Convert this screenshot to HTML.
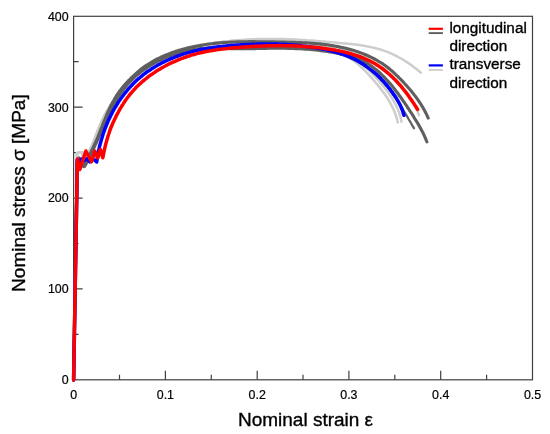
<!DOCTYPE html>
<html><head><meta charset="utf-8"><title>Nominal stress-strain curves</title>
<style>
html,body{margin:0;padding:0;background:#fff;}
svg{display:block;font-family:"Liberation Sans",sans-serif;fill:#000;}
.c path{fill:none;stroke-linejoin:round;stroke-linecap:round;}
.c path.l{stroke-linecap:butt;}
text{stroke:#000;stroke-width:0.2px;}
text.b{stroke-width:0.35px;}
text.m{stroke-width:0.35px;}
</style></head><body>
<svg width="550" height="434" viewBox="0 0 550 434">
<rect width="550" height="434" fill="#fff"/>
<g>
<rect x="73.6" y="16.3" width="458.9" height="363.5" fill="none" stroke="#404040" stroke-width="1.2"/>
<path d="M119.5,379.8 v-5 M165.4,379.8 v-9 M211.3,379.8 v-5 M257.2,379.8 v-9 M303.0,379.8 v-5 M348.9,379.8 v-9 M394.8,379.8 v-5 M440.7,379.8 v-9 M486.6,379.8 v-5 M73.6,334.4 h5 M73.6,288.9 h9 M73.6,243.5 h5 M73.6,198.1 h9 M73.6,152.6 h5 M73.6,107.2 h9 M73.6,61.7 h5" stroke="#404040" stroke-width="1.2" fill="none"/>
</g>
<g class="c">
<path d="M73.6,380.0 L77.0,153.0 L82.4,152.3 L82.6,156.5 L86.0,157.5 C86.2,157.1 86.8,156.1 87.2,155.3 C87.7,154.6 88.0,153.8 88.4,153.1 C88.8,152.4 89.2,151.6 89.5,150.9 C89.9,150.1 90.3,149.3 90.6,148.6 C91.0,147.8 91.3,147.0 91.6,146.3 C92.0,145.5 92.3,144.7 92.6,144.0 C92.9,143.2 93.2,142.4 93.5,141.6 C93.9,140.9 94.2,140.1 94.5,139.3 C94.8,138.5 95.1,137.7 95.4,137.0 C95.7,136.2 96.0,135.4 96.3,134.6 C96.6,133.8 96.9,133.1 97.2,132.3 C97.5,131.5 97.8,130.7 98.1,129.9 C98.4,129.2 98.7,128.4 99.0,127.6 C99.3,126.8 99.7,126.0 100.0,125.3 C100.3,124.5 100.6,123.7 101.0,123.0 C101.3,122.2 101.7,121.4 102.0,120.7 C102.4,119.9 102.7,119.2 103.1,118.4 C103.5,117.7 103.8,116.9 104.2,116.2 C104.6,115.4 105.0,114.7 105.4,113.9 C105.8,113.2 106.2,112.5 106.6,111.8 C107.0,111.0 107.5,110.3 107.9,109.6 C108.3,108.9 108.8,108.2 109.2,107.4 C109.7,106.7 110.1,106.0 110.6,105.3 C111.0,104.6 111.5,103.9 112.0,103.2 C112.4,102.5 112.9,101.8 113.4,101.2 C113.9,100.5 114.4,99.8 114.8,99.1 C115.3,98.4 115.8,97.8 116.3,97.1 C116.8,96.4 117.4,95.8 117.9,95.1 C118.4,94.5 118.9,93.8 119.4,93.1 C120.0,92.5 120.5,91.8 121.0,91.2 C121.6,90.6 122.1,89.9 122.6,89.3 C123.2,88.6 123.7,88.0 124.3,87.4 C124.8,86.8 125.4,86.1 126.0,85.5 C126.5,84.9 127.1,84.3 127.7,83.7 C128.3,83.1 128.8,82.5 129.4,81.9 C130.0,81.3 130.6,80.7 131.2,80.1 C131.8,79.5 132.4,78.9 133.0,78.3 C133.6,77.8 134.2,77.2 134.8,76.6 C135.4,76.0 136.1,75.5 136.7,74.9 C137.3,74.4 138.0,73.8 138.6,73.3 C139.2,72.8 139.9,72.2 140.5,71.7 C141.2,71.2 141.8,70.7 142.5,70.1 C143.2,69.6 143.8,69.1 144.5,68.6 C145.2,68.1 145.9,67.7 146.6,67.2 C147.3,66.7 148.0,66.2 148.7,65.8 C149.4,65.3 150.1,64.9 150.8,64.4 C151.5,64.0 152.2,63.6 152.9,63.1 C153.7,62.7 154.4,62.3 155.1,61.9 C155.9,61.5 156.6,61.1 157.3,60.7 C158.1,60.3 158.8,60.0 159.6,59.6 C160.3,59.2 161.1,58.8 161.8,58.5 C162.6,58.1 163.4,57.8 164.1,57.4 C164.9,57.1 165.6,56.8 166.4,56.4 C167.2,56.1 168.0,55.8 168.7,55.5 C169.5,55.1 170.3,54.8 171.1,54.5 C171.9,54.2 172.6,53.9 173.4,53.6 C174.2,53.3 175.0,53.1 175.8,52.8 C176.6,52.5 177.4,52.2 178.2,52.0 C178.9,51.7 179.7,51.4 180.5,51.2 C181.3,50.9 182.1,50.7 182.9,50.4 C183.7,50.2 184.5,49.9 185.3,49.7 C186.1,49.4 186.9,49.2 187.8,49.0 C188.6,48.8 189.4,48.5 190.2,48.3 C191.0,48.1 191.8,47.9 192.6,47.7 C193.4,47.5 194.2,47.3 195.0,47.1 C195.9,46.9 196.7,46.7 197.5,46.5 C198.3,46.3 199.1,46.1 199.9,46.0 C200.8,45.8 201.6,45.6 202.4,45.4 C203.2,45.3 204.0,45.1 204.9,44.9 C205.7,44.8 206.5,44.6 207.3,44.4 C208.1,44.3 209.0,44.1 209.8,44.0 C210.6,43.8 211.4,43.7 212.3,43.6 C213.1,43.4 213.9,43.3 214.7,43.1 C215.6,43.0 216.4,42.9 217.2,42.7 C218.1,42.6 218.9,42.5 219.7,42.4 C220.5,42.3 221.4,42.1 222.2,42.0 C223.0,41.9 223.9,41.8 224.7,41.7 C225.5,41.6 226.4,41.5 227.2,41.4 C228.0,41.3 228.8,41.2 229.7,41.1 C230.5,41.0 231.3,40.9 232.2,40.8 C233.0,40.7 233.8,40.6 234.7,40.6 C235.5,40.5 236.3,40.4 237.2,40.3 C238.0,40.2 238.8,40.2 239.7,40.1 C240.5,40.0 241.3,40.0 242.2,39.9 C243.0,39.8 243.9,39.8 244.7,39.7 C245.5,39.7 246.4,39.6 247.2,39.6 C248.0,39.5 248.9,39.5 249.7,39.4 C250.5,39.4 251.4,39.3 252.2,39.3 C253.0,39.3 253.9,39.2 254.7,39.2 C255.6,39.1 256.4,39.1 257.2,39.1 C258.1,39.1 258.9,39.0 259.7,39.0 C260.6,39.0 261.4,39.0 262.3,39.0 C263.1,38.9 263.9,38.9 264.8,38.9 C265.6,38.9 266.4,38.9 267.3,38.9 C268.1,38.9 269.0,38.9 269.8,38.9 C270.6,38.9 271.5,38.9 272.3,38.9 C273.1,38.9 274.0,38.9 274.8,38.9 C275.7,38.9 276.5,38.9 277.3,38.9 C278.2,38.9 279.0,39.0 279.8,39.0 C280.7,39.0 281.5,39.0 282.4,39.0 C283.2,39.1 284.0,39.1 284.9,39.1 C285.7,39.1 286.5,39.2 287.4,39.2 C288.2,39.2 289.0,39.3 289.9,39.3 C290.7,39.3 291.6,39.4 292.4,39.4 C293.2,39.4 294.1,39.5 294.9,39.5 C295.7,39.6 296.6,39.6 297.4,39.7 C298.2,39.7 299.1,39.8 299.9,39.8 C300.8,39.9 301.6,39.9 302.4,40.0 C303.3,40.0 304.1,40.1 304.9,40.1 C305.8,40.2 306.6,40.2 307.4,40.3 C308.3,40.3 309.1,40.4 309.9,40.5 C310.8,40.5 311.6,40.6 312.5,40.6 C313.3,40.7 314.1,40.8 315.0,40.8 C315.8,40.9 316.6,41.0 317.5,41.0 C318.3,41.1 319.1,41.2 320.0,41.2 C320.8,41.3 321.6,41.4 322.5,41.4 C323.3,41.5 324.1,41.6 325.0,41.6 C325.8,41.7 326.6,41.8 327.5,41.9 C328.3,41.9 329.1,42.0 330.0,42.1 C330.8,42.2 331.6,42.2 332.5,42.3 C333.3,42.4 334.2,42.4 335.0,42.5 C335.8,42.6 336.7,42.7 337.5,42.7 C338.3,42.8 339.2,42.9 340.0,43.0 C340.8,43.0 341.7,43.1 342.5,43.2 C343.3,43.3 344.2,43.4 345.0,43.4 C345.8,43.5 346.7,43.6 347.5,43.7 C348.3,43.8 349.2,43.8 350.0,43.9 C350.8,44.0 351.7,44.1 352.5,44.2 C353.3,44.3 354.2,44.4 355.0,44.5 C355.8,44.6 356.6,44.7 357.5,44.8 C358.3,44.9 359.1,45.0 360.0,45.2 C360.8,45.3 361.6,45.4 362.4,45.5 C363.3,45.7 364.1,45.8 364.9,45.9 C365.8,46.1 366.6,46.2 367.4,46.4 C368.2,46.5 369.0,46.7 369.9,46.9 C370.7,47.0 371.5,47.2 372.3,47.4 C373.1,47.6 374.0,47.8 374.8,48.0 C375.6,48.2 376.4,48.4 377.2,48.6 C378.0,48.8 378.8,49.1 379.6,49.3 C380.4,49.5 381.2,49.8 382.0,50.1 C382.8,50.3 383.6,50.6 384.4,50.9 C385.2,51.1 386.0,51.4 386.7,51.7 C387.5,52.0 388.3,52.3 389.1,52.7 C389.9,53.0 390.6,53.3 391.4,53.7 C392.2,54.0 392.9,54.3 393.7,54.7 C394.4,55.1 395.2,55.4 395.9,55.8 C396.7,56.2 397.4,56.6 398.2,57.0 C398.9,57.4 399.6,57.8 400.4,58.2 C401.1,58.6 401.8,59.0 402.5,59.4 C403.3,59.8 404.0,60.3 404.7,60.7 C405.4,61.2 406.1,61.6 406.8,62.1 C407.5,62.5 408.2,63.0 408.9,63.5 C409.6,63.9 410.3,64.4 411.0,64.9 C411.6,65.4 412.3,65.9 413.0,66.4 C413.7,66.9 414.3,67.4 415.0,67.9 C415.6,68.4 416.3,68.9 417.0,69.5 C417.6,70.0 418.3,70.5 418.9,71.1 C419.5,71.6 420.5,72.4 420.8,72.7" stroke="#cdcdcd" stroke-width="2.5"/>
<path d="M73.6,380.0 L77.0,153.0 L82.4,152.3 L82.6,156.5 L86.0,157.5 C86.2,157.1 86.8,156.0 87.2,155.3 C87.6,154.6 88.0,153.8 88.4,153.1 C88.7,152.3 89.1,151.6 89.5,150.8 C89.8,150.1 90.2,149.3 90.5,148.5 C90.9,147.8 91.2,147.0 91.5,146.2 C91.9,145.5 92.2,144.7 92.5,143.9 C92.9,143.2 93.2,142.4 93.5,141.6 C93.8,140.8 94.1,140.1 94.4,139.3 C94.7,138.5 95.1,137.7 95.4,137.0 C95.7,136.2 96.0,135.4 96.3,134.6 C96.6,133.8 96.9,133.1 97.2,132.3 C97.5,131.5 97.8,130.7 98.1,130.0 C98.5,129.2 98.8,128.4 99.1,127.6 C99.4,126.9 99.7,126.1 100.1,125.3 C100.4,124.5 100.7,123.8 101.1,123.0 C101.4,122.3 101.7,121.5 102.1,120.7 C102.5,120.0 102.8,119.2 103.2,118.5 C103.5,117.7 103.9,117.0 104.3,116.2 C104.7,115.5 105.1,114.7 105.5,114.0 C105.9,113.3 106.3,112.5 106.7,111.8 C107.1,111.1 107.5,110.3 107.9,109.6 C108.4,108.9 108.8,108.2 109.2,107.5 C109.7,106.8 110.1,106.0 110.6,105.3 C111.0,104.6 111.5,103.9 111.9,103.2 C112.4,102.5 112.9,101.9 113.3,101.2 C113.8,100.5 114.3,99.8 114.8,99.1 C115.3,98.4 115.8,97.8 116.3,97.1 C116.8,96.4 117.3,95.8 117.8,95.1 C118.3,94.4 118.8,93.8 119.4,93.1 C119.9,92.5 120.4,91.8 120.9,91.2 C121.5,90.5 122.0,89.9 122.6,89.3 C123.1,88.6 123.7,88.0 124.2,87.4 C124.8,86.7 125.3,86.1 125.9,85.5 C126.5,84.9 127.0,84.3 127.6,83.7 C128.2,83.1 128.8,82.5 129.4,81.9 C129.9,81.3 130.5,80.7 131.1,80.1 C131.7,79.5 132.3,78.9 132.9,78.3 C133.5,77.8 134.2,77.2 134.8,76.6 C135.4,76.1 136.0,75.5 136.7,75.0 C137.3,74.4 137.9,73.9 138.6,73.3 C139.2,72.8 139.9,72.3 140.5,71.8 C141.2,71.2 141.8,70.7 142.5,70.2 C143.2,69.7 143.8,69.2 144.5,68.7 C145.2,68.2 145.9,67.7 146.6,67.3 C147.2,66.8 147.9,66.3 148.6,65.9 C149.3,65.4 150.1,65.0 150.8,64.5 C151.5,64.1 152.2,63.7 152.9,63.2 C153.6,62.8 154.4,62.4 155.1,62.0 C155.8,61.6 156.6,61.2 157.3,60.8 C158.1,60.4 158.8,60.1 159.6,59.7 C160.3,59.3 161.1,58.9 161.8,58.6 C162.6,58.2 163.3,57.9 164.1,57.5 C164.9,57.2 165.6,56.9 166.4,56.5 C167.2,56.2 167.9,55.9 168.7,55.6 C169.5,55.2 170.3,54.9 171.0,54.6 C171.8,54.3 172.6,54.0 173.4,53.7 C174.2,53.4 174.9,53.1 175.7,52.8 C176.5,52.5 177.3,52.3 178.1,52.0 C178.9,51.7 179.7,51.4 180.5,51.2 C181.3,50.9 182.1,50.7 182.9,50.4 C183.7,50.1 184.4,49.9 185.3,49.7 C186.1,49.4 186.9,49.2 187.7,48.9 C188.5,48.7 189.3,48.5 190.1,48.3 C190.9,48.0 191.7,47.8 192.5,47.6 C193.3,47.4 194.1,47.2 194.9,47.0 C195.7,46.8 196.6,46.6 197.4,46.4 C198.2,46.2 199.0,46.0 199.8,45.8 C200.6,45.6 201.4,45.5 202.3,45.3 C203.1,45.1 203.9,44.9 204.7,44.8 C205.5,44.6 206.4,44.5 207.2,44.3 C208.0,44.1 208.8,44.0 209.7,43.8 C210.5,43.7 211.3,43.6 212.1,43.4 C213.0,43.3 213.8,43.2 214.6,43.0 C215.4,42.9 216.3,42.8 217.1,42.7 C217.9,42.5 218.8,42.4 219.6,42.3 C220.4,42.2 221.2,42.1 222.1,42.0 C222.9,41.9 223.7,41.8 224.6,41.7 C225.4,41.6 226.2,41.5 227.1,41.5 C227.9,41.4 228.7,41.3 229.6,41.2 C230.4,41.1 231.2,41.1 232.1,41.0 C232.9,40.9 233.7,40.8 234.6,40.8 C235.4,40.7 236.2,40.7 237.1,40.6 C237.9,40.5 238.7,40.5 239.6,40.4 C240.4,40.4 241.2,40.3 242.1,40.3 C242.9,40.3 243.8,40.2 244.6,40.2 C245.4,40.1 246.3,40.1 247.1,40.1 C247.9,40.0 248.8,40.0 249.6,40.0 C250.4,39.9 251.3,39.9 252.1,39.9 C253.0,39.9 253.8,39.9 254.6,39.8 C255.5,39.8 256.3,39.8 257.1,39.8 C258.0,39.8 258.8,39.8 259.6,39.8 C260.5,39.7 261.3,39.7 262.2,39.7 C263.0,39.7 263.8,39.7 264.7,39.7 C265.5,39.7 266.3,39.7 267.2,39.7 C268.0,39.7 268.8,39.7 269.7,39.7 C270.5,39.7 271.4,39.7 272.2,39.7 C273.0,39.7 273.9,39.7 274.7,39.8 C275.5,39.8 276.4,39.8 277.2,39.8 C278.1,39.8 278.9,39.8 279.7,39.8 C280.6,39.9 281.4,39.9 282.2,39.9 C283.1,39.9 283.9,39.9 284.7,40.0 C285.6,40.0 286.4,40.0 287.3,40.1 C288.1,40.1 288.9,40.1 289.8,40.2 C290.6,40.2 291.4,40.2 292.3,40.3 C293.1,40.3 293.9,40.4 294.8,40.4 C295.6,40.5 296.4,40.5 297.3,40.6 C298.1,40.7 299.0,40.7 299.8,40.8 C300.6,40.9 301.5,40.9 302.3,41.0 C303.1,41.1 304.0,41.2 304.8,41.2 C305.6,41.3 306.5,41.4 307.3,41.5 C308.1,41.6 308.9,41.7 309.8,41.8 C310.6,41.9 311.4,42.0 312.3,42.1 C313.1,42.2 313.9,42.3 314.8,42.4 C315.6,42.6 316.4,42.7 317.2,42.8 C318.1,42.9 318.9,43.1 319.7,43.2 C320.5,43.4 321.4,43.5 322.2,43.7 C323.0,43.8 323.8,44.0 324.6,44.1 C325.5,44.3 326.3,44.5 327.1,44.7 C327.9,44.8 328.7,45.0 329.6,45.2 C330.4,45.4 331.2,45.6 332.0,45.8 C332.8,46.0 333.6,46.2 334.4,46.4 C335.2,46.6 336.0,46.9 336.8,47.1 C337.7,47.3 338.5,47.5 339.3,47.8 C340.1,48.0 340.9,48.3 341.7,48.5 C342.4,48.8 343.2,49.1 344.0,49.3 C344.8,49.6 345.6,49.9 346.4,50.2 C347.2,50.5 348.0,50.7 348.8,51.0 C349.5,51.3 350.3,51.6 351.1,52.0 C351.9,52.3 352.6,52.6 353.4,52.9 C354.2,53.2 355.0,53.6 355.7,53.9 C356.5,54.3 357.2,54.6 358.0,54.9 C358.8,55.3 359.5,55.7 360.3,56.0 C361.0,56.4 361.8,56.8 362.5,57.1 C363.3,57.5 364.0,57.9 364.8,58.3 C365.5,58.7 366.2,59.1 367.0,59.5 C367.7,59.9 368.4,60.3 369.1,60.7 C369.9,61.1 370.6,61.6 371.3,62.0 C372.0,62.4 372.7,62.9 373.5,63.3 C374.2,63.7 374.9,64.2 375.6,64.7 C376.3,65.1 377.0,65.6 377.7,66.0 C378.4,66.5 379.0,67.0 379.7,67.5 C380.4,67.9 381.1,68.4 381.8,68.9 C382.4,69.4 383.1,69.9 383.8,70.4 C384.4,70.9 385.1,71.4 385.8,72.0 C386.4,72.5 387.1,73.0 387.7,73.5 C388.4,74.1 389.0,74.6 389.6,75.2 C390.3,75.7 390.9,76.2 391.5,76.8 C392.2,77.4 392.8,77.9 393.4,78.5 C394.0,79.1 394.6,79.6 395.2,80.2 C395.8,80.8 396.4,81.4 397.0,82.0 C397.6,82.6 398.2,83.2 398.8,83.8 C399.4,84.4 399.9,85.0 400.5,85.6 C401.1,86.2 401.6,86.8 402.2,87.5 C402.7,88.1 403.3,88.7 403.8,89.4 C404.3,90.0 404.9,90.7 405.4,91.3 C405.9,92.0 406.4,92.6 406.9,93.3 C407.4,94.0 407.9,94.6 408.4,95.3 C408.9,96.0 409.4,96.7 409.8,97.4 C410.3,98.1 410.8,98.8 411.2,99.5 C411.7,100.2 412.1,100.9 412.5,101.6 C413.0,102.3 413.4,103.1 413.8,103.8 C414.2,104.5 414.6,105.3 415.0,106.0 C415.4,106.8 415.7,107.5 416.1,108.3 C416.4,109.0 416.8,109.8 417.1,110.5 C417.5,111.3 417.8,112.1 418.1,112.9 C418.4,113.6 418.9,114.8 419.0,115.2" stroke="#cdcdcd" stroke-width="2.5"/>
<path d="M73.6,380.0 L77.0,153.0 L82.4,152.3 L82.6,156.5 L86.0,157.5 C86.2,157.1 86.8,156.1 87.2,155.3 C87.6,154.6 88.0,153.8 88.4,153.1 C88.8,152.4 89.2,151.6 89.5,150.9 C89.9,150.1 90.2,149.3 90.6,148.6 C90.9,147.8 91.3,147.1 91.6,146.3 C91.9,145.5 92.2,144.7 92.6,144.0 C92.9,143.2 93.2,142.4 93.5,141.6 C93.8,140.9 94.1,140.1 94.4,139.3 C94.7,138.5 95.0,137.8 95.3,137.0 C95.6,136.2 96.0,135.4 96.3,134.6 C96.6,133.9 96.9,133.1 97.2,132.3 C97.5,131.5 97.8,130.7 98.1,130.0 C98.4,129.2 98.7,128.4 99.0,127.6 C99.3,126.9 99.7,126.1 100.0,125.3 C100.3,124.6 100.7,123.8 101.0,123.0 C101.3,122.3 101.7,121.5 102.0,120.7 C102.4,120.0 102.7,119.2 103.1,118.5 C103.5,117.7 103.9,117.0 104.2,116.2 C104.6,115.5 105.0,114.8 105.4,114.0 C105.8,113.3 106.2,112.6 106.6,111.8 C107.0,111.1 107.5,110.4 107.9,109.7 C108.3,108.9 108.8,108.2 109.2,107.5 C109.6,106.8 110.1,106.1 110.5,105.4 C111.0,104.7 111.5,104.0 111.9,103.3 C112.4,102.6 112.9,101.9 113.3,101.2 C113.8,100.6 114.3,99.9 114.8,99.2 C115.3,98.5 115.8,97.9 116.3,97.2 C116.8,96.5 117.3,95.9 117.8,95.2 C118.3,94.5 118.8,93.9 119.4,93.2 C119.9,92.6 120.4,91.9 120.9,91.3 C121.5,90.6 122.0,90.0 122.6,89.4 C123.1,88.7 123.6,88.1 124.2,87.5 C124.7,86.8 125.3,86.2 125.9,85.6 C126.4,85.0 127.0,84.3 127.6,83.7 C128.1,83.1 128.7,82.5 129.3,81.9 C129.9,81.3 130.4,80.7 131.0,80.1 C131.6,79.5 132.2,78.9 132.8,78.4 C133.4,77.8 134.0,77.2 134.6,76.6 C135.3,76.1 135.9,75.5 136.5,75.0 C137.1,74.4 137.8,73.9 138.4,73.3 C139.1,72.8 139.7,72.3 140.4,71.7 C141.0,71.2 141.7,70.7 142.4,70.2 C143.0,69.7 143.7,69.2 144.4,68.8 C145.1,68.3 145.8,67.8 146.5,67.3 C147.1,66.9 147.9,66.4 148.6,66.0 C149.3,65.5 150.0,65.1 150.7,64.6 C151.4,64.2 152.1,63.8 152.9,63.4 C153.6,63.0 154.3,62.5 155.0,62.1 C155.8,61.7 156.5,61.3 157.3,61.0 C158.0,60.6 158.7,60.2 159.5,59.8 C160.2,59.4 161.0,59.1 161.7,58.7 C162.5,58.3 163.2,58.0 164.0,57.6 C164.8,57.3 165.5,57.0 166.3,56.6 C167.1,56.3 167.8,55.9 168.6,55.6 C169.4,55.3 170.1,55.0 170.9,54.7 C171.7,54.3 172.5,54.0 173.2,53.7 C174.0,53.4 174.8,53.1 175.6,52.9 C176.4,52.6 177.2,52.3 177.9,52.0 C178.7,51.7 179.5,51.4 180.3,51.2 C181.1,50.9 181.9,50.7 182.7,50.4 C183.5,50.1 184.3,49.9 185.1,49.6 C185.9,49.4 186.7,49.2 187.5,48.9 C188.3,48.7 189.1,48.5 189.9,48.2 C190.7,48.0 191.5,47.8 192.3,47.6 C193.1,47.4 194.0,47.2 194.8,47.0 C195.6,46.8 196.4,46.6 197.2,46.4 C198.0,46.2 198.8,46.0 199.6,45.8 C200.5,45.6 201.3,45.5 202.1,45.3 C202.9,45.1 203.7,44.9 204.6,44.8 C205.4,44.6 206.2,44.5 207.0,44.3 C207.8,44.2 208.7,44.0 209.5,43.9 C210.3,43.7 211.1,43.6 212.0,43.5 C212.8,43.3 213.6,43.2 214.4,43.1 C215.3,43.0 216.1,42.8 216.9,42.7 C217.8,42.6 218.6,42.5 219.4,42.4 C220.2,42.3 221.1,42.2 221.9,42.1 C222.7,42.0 223.6,41.9 224.4,41.8 C225.2,41.7 226.1,41.6 226.9,41.5 C227.7,41.4 228.5,41.4 229.4,41.3 C230.2,41.2 231.0,41.1 231.9,41.1 C232.7,41.0 233.5,40.9 234.4,40.9 C235.2,40.8 236.0,40.7 236.9,40.7 C237.7,40.6 238.6,40.6 239.4,40.5 C240.2,40.5 241.1,40.4 241.9,40.4 C242.7,40.3 243.6,40.3 244.4,40.2 C245.2,40.2 246.1,40.2 246.9,40.1 C247.7,40.1 248.6,40.1 249.4,40.0 C250.2,40.0 251.1,40.0 251.9,39.9 C252.7,39.9 253.6,39.9 254.4,39.9 C255.3,39.8 256.1,39.8 256.9,39.8 C257.8,39.8 258.6,39.8 259.4,39.8 C260.3,39.7 261.1,39.7 261.9,39.7 C262.8,39.7 263.6,39.7 264.5,39.7 C265.3,39.7 266.1,39.7 267.0,39.7 C267.8,39.7 268.6,39.7 269.5,39.7 C270.3,39.7 271.1,39.7 272.0,39.7 C272.8,39.7 273.6,39.7 274.5,39.7 C275.3,39.7 276.2,39.7 277.0,39.8 C277.8,39.8 278.7,39.8 279.5,39.8 C280.3,39.9 281.2,39.9 282.0,39.9 C282.8,40.0 283.7,40.0 284.5,40.0 C285.3,40.1 286.2,40.1 287.0,40.2 C287.9,40.2 288.7,40.3 289.5,40.4 C290.4,40.4 291.2,40.5 292.0,40.6 C292.9,40.6 293.7,40.7 294.5,40.8 C295.3,40.9 296.2,40.9 297.0,41.0 C297.8,41.1 298.7,41.2 299.5,41.3 C300.3,41.4 301.2,41.5 302.0,41.6 C302.8,41.8 303.6,41.9 304.5,42.0 C305.3,42.1 306.1,42.3 307.0,42.4 C307.8,42.5 308.6,42.7 309.4,42.8 C310.2,43.0 311.1,43.1 311.9,43.3 C312.7,43.5 313.5,43.6 314.3,43.8 C315.2,44.0 316.0,44.2 316.8,44.4 C317.6,44.5 318.4,44.7 319.2,44.9 C320.0,45.2 320.8,45.4 321.7,45.6 C322.5,45.8 323.3,46.0 324.1,46.3 C324.9,46.5 325.7,46.8 326.5,47.0 C327.3,47.3 328.1,47.5 328.8,47.8 C329.6,48.1 330.4,48.3 331.2,48.6 C332.0,48.9 332.8,49.2 333.6,49.5 C334.3,49.8 335.1,50.1 335.9,50.5 C336.7,50.8 337.4,51.1 338.2,51.5 C338.9,51.8 339.7,52.1 340.5,52.5 C341.2,52.9 342.0,53.3 342.7,53.6 C343.4,54.0 344.2,54.4 344.9,54.8 C345.6,55.2 346.4,55.7 347.1,56.1 C347.8,56.5 348.5,57.0 349.2,57.4 C349.9,57.9 350.6,58.3 351.3,58.8 C352.0,59.3 352.6,59.8 353.3,60.3 C354.0,60.8 354.6,61.3 355.3,61.8 C356.0,62.3 356.6,62.9 357.2,63.4 C357.9,64.0 358.5,64.5 359.1,65.1 C359.7,65.6 360.4,66.2 361.0,66.8 C361.6,67.3 362.2,67.9 362.8,68.5 C363.4,69.1 364.0,69.7 364.5,70.3 C365.1,70.9 365.7,71.5 366.3,72.1 C366.9,72.7 367.4,73.3 368.0,73.9 C368.6,74.5 369.1,75.2 369.7,75.8 C370.2,76.4 370.8,77.0 371.4,77.6 C371.9,78.3 372.5,78.9 373.0,79.5 C373.6,80.2 374.1,80.8 374.7,81.4 C375.2,82.1 375.7,82.7 376.3,83.3 C376.8,84.0 377.4,84.6 377.9,85.3 C378.4,85.9 378.9,86.6 379.5,87.2 C380.0,87.9 380.5,88.5 381.0,89.2 C381.5,89.9 382.0,90.5 382.5,91.2 C383.0,91.9 383.5,92.5 384.0,93.2 C384.5,93.9 385.0,94.6 385.5,95.3 C385.9,96.0 386.4,96.6 386.8,97.3 C387.3,98.0 387.8,98.8 388.2,99.5 C388.6,100.2 389.1,100.9 389.5,101.6 C389.9,102.3 390.3,103.1 390.7,103.8 C391.1,104.5 391.5,105.3 391.9,106.0 C392.3,106.8 392.6,107.5 393.0,108.3 C393.3,109.0 393.7,109.8 394.0,110.6 C394.3,111.3 394.6,112.1 394.9,112.9 C395.2,113.7 395.5,114.5 395.8,115.3 C396.1,116.0 396.3,116.8 396.6,117.6 C396.8,118.4 397.0,119.3 397.2,120.1 C397.4,120.9 397.7,122.1 397.8,122.5" stroke="#cdcdcd" stroke-width="2.5"/>
<path d="M73.6,380.0 L77.0,153.0 L82.4,152.3 L82.6,156.5 L86.0,157.5 C86.2,157.1 86.8,156.1 87.2,155.3 C87.7,154.6 88.0,153.8 88.4,153.1 C88.8,152.4 89.2,151.6 89.5,150.9 C89.9,150.1 90.3,149.3 90.6,148.6 C90.9,147.8 91.3,147.0 91.6,146.3 C91.9,145.5 92.3,144.7 92.6,144.0 C92.9,143.2 93.2,142.4 93.5,141.6 C93.8,140.9 94.1,140.1 94.4,139.3 C94.8,138.5 95.1,137.7 95.4,137.0 C95.7,136.2 96.0,135.4 96.3,134.6 C96.6,133.8 96.9,133.1 97.2,132.3 C97.5,131.5 97.8,130.7 98.1,129.9 C98.4,129.2 98.7,128.4 99.0,127.6 C99.3,126.8 99.7,126.1 100.0,125.3 C100.3,124.5 100.6,123.8 101.0,123.0 C101.3,122.2 101.7,121.5 102.0,120.7 C102.4,119.9 102.7,119.2 103.1,118.4 C103.5,117.7 103.9,116.9 104.2,116.2 C104.6,115.5 105.0,114.7 105.4,114.0 C105.8,113.2 106.2,112.5 106.6,111.8 C107.1,111.1 107.5,110.3 107.9,109.6 C108.3,108.9 108.8,108.2 109.2,107.5 C109.7,106.8 110.1,106.1 110.6,105.4 C111.0,104.7 111.5,104.0 112.0,103.3 C112.4,102.6 112.9,101.9 113.4,101.2 C113.9,100.5 114.4,99.8 114.8,99.2 C115.3,98.5 115.8,97.8 116.3,97.1 C116.8,96.5 117.4,95.8 117.9,95.2 C118.4,94.5 118.9,93.8 119.4,93.2 C119.9,92.5 120.5,91.9 121.0,91.2 C121.5,90.6 122.1,90.0 122.6,89.3 C123.2,88.7 123.7,88.0 124.3,87.4 C124.8,86.8 125.4,86.2 125.9,85.5 C126.5,84.9 127.0,84.3 127.6,83.7 C128.2,83.1 128.8,82.5 129.3,81.8 C129.9,81.2 130.5,80.6 131.1,80.0 C131.7,79.5 132.3,78.9 132.9,78.3 C133.5,77.7 134.1,77.1 134.7,76.6 C135.3,76.0 135.9,75.4 136.6,74.9 C137.2,74.3 137.8,73.8 138.5,73.2 C139.1,72.7 139.8,72.2 140.4,71.7 C141.1,71.2 141.7,70.6 142.4,70.1 C143.1,69.6 143.8,69.2 144.5,68.7 C145.1,68.2 145.8,67.7 146.5,67.3 C147.2,66.8 147.9,66.3 148.6,65.9 C149.3,65.5 150.1,65.0 150.8,64.6 C151.5,64.2 152.2,63.7 152.9,63.3 C153.7,62.9 154.4,62.5 155.1,62.1 C155.9,61.7 156.6,61.3 157.4,60.9 C158.1,60.5 158.8,60.2 159.6,59.8 C160.3,59.4 161.1,59.0 161.9,58.7 C162.6,58.3 163.4,58.0 164.1,57.6 C164.9,57.3 165.7,56.9 166.4,56.6 C167.2,56.3 167.9,55.9 168.7,55.6 C169.5,55.3 170.3,54.9 171.0,54.6 C171.8,54.3 172.6,54.0 173.4,53.7 C174.2,53.4 174.9,53.1 175.7,52.8 C176.5,52.5 177.3,52.2 178.1,52.0 C178.9,51.7 179.7,51.4 180.5,51.1 C181.2,50.9 182.0,50.6 182.8,50.3 C183.6,50.1 184.4,49.8 185.2,49.6 C186.0,49.3 186.8,49.1 187.6,48.9 C188.4,48.6 189.2,48.4 190.0,48.2 C190.9,47.9 191.7,47.7 192.5,47.5 C193.3,47.3 194.1,47.1 194.9,46.9 C195.7,46.7 196.5,46.5 197.3,46.3 C198.2,46.1 199.0,45.9 199.8,45.7 C200.6,45.6 201.4,45.4 202.2,45.2 C203.1,45.0 203.9,44.9 204.7,44.7 C205.5,44.5 206.3,44.4 207.2,44.2 C208.0,44.1 208.8,44.0 209.6,43.8 C210.5,43.7 211.3,43.5 212.1,43.4 C212.9,43.3 213.8,43.1 214.6,43.0 C215.4,42.9 216.3,42.8 217.1,42.7 C217.9,42.6 218.7,42.5 219.6,42.4 C220.4,42.3 221.2,42.2 222.1,42.1 C222.9,42.0 223.7,41.9 224.6,41.8 C225.4,41.7 226.2,41.6 227.1,41.5 C227.9,41.5 228.7,41.4 229.6,41.3 C230.4,41.2 231.2,41.2 232.1,41.1 C232.9,41.0 233.7,41.0 234.6,40.9 C235.4,40.9 236.2,40.8 237.1,40.8 C237.9,40.7 238.8,40.7 239.6,40.6 C240.4,40.6 241.3,40.5 242.1,40.5 C242.9,40.4 243.8,40.4 244.6,40.4 C245.4,40.3 246.3,40.3 247.1,40.3 C247.9,40.3 248.8,40.2 249.6,40.2 C250.5,40.2 251.3,40.2 252.1,40.1 C253.0,40.1 253.8,40.1 254.6,40.1 C255.5,40.1 256.3,40.0 257.2,40.0 C258.0,40.0 258.8,40.0 259.7,40.0 C260.5,40.0 261.3,40.0 262.2,40.0 C263.0,40.0 263.8,40.0 264.7,40.0 C265.5,40.0 266.4,40.0 267.2,40.0 C268.0,40.0 268.9,40.0 269.7,40.0 C270.5,40.0 271.4,40.0 272.2,40.0 C273.1,40.0 273.9,40.1 274.7,40.1 C275.6,40.1 276.4,40.1 277.2,40.1 C278.1,40.2 278.9,40.2 279.7,40.2 C280.6,40.3 281.4,40.3 282.3,40.3 C283.1,40.4 283.9,40.4 284.8,40.4 C285.6,40.5 286.4,40.5 287.3,40.6 C288.1,40.6 288.9,40.7 289.8,40.8 C290.6,40.8 291.4,40.9 292.3,41.0 C293.1,41.0 293.9,41.1 294.8,41.2 C295.6,41.3 296.4,41.3 297.3,41.4 C298.1,41.5 298.9,41.6 299.8,41.7 C300.6,41.8 301.4,41.9 302.3,42.0 C303.1,42.1 303.9,42.2 304.8,42.3 C305.6,42.4 306.4,42.6 307.2,42.7 C308.1,42.8 308.9,42.9 309.7,43.1 C310.5,43.2 311.4,43.3 312.2,43.5 C313.0,43.6 313.8,43.8 314.7,44.0 C315.5,44.1 316.3,44.3 317.1,44.5 C317.9,44.6 318.8,44.8 319.6,45.0 C320.4,45.2 321.2,45.4 322.0,45.5 C322.8,45.7 323.6,45.9 324.5,46.2 C325.3,46.4 326.1,46.6 326.9,46.8 C327.7,47.0 328.5,47.3 329.3,47.5 C330.1,47.7 330.9,48.0 331.7,48.2 C332.5,48.5 333.3,48.7 334.1,49.0 C334.9,49.3 335.7,49.5 336.5,49.8 C337.3,50.1 338.0,50.4 338.8,50.7 C339.6,51.0 340.4,51.3 341.2,51.6 C341.9,51.9 342.7,52.3 343.5,52.6 C344.2,52.9 345.0,53.3 345.7,53.6 C346.5,54.0 347.3,54.4 348.0,54.7 C348.7,55.1 349.5,55.5 350.2,55.9 C350.9,56.3 351.7,56.7 352.4,57.2 C353.1,57.6 353.8,58.0 354.5,58.5 C355.2,58.9 355.9,59.4 356.6,59.9 C357.3,60.3 358.0,60.8 358.7,61.3 C359.3,61.8 360.0,62.3 360.7,62.9 C361.3,63.4 362.0,63.9 362.6,64.5 C363.2,65.0 363.9,65.5 364.5,66.1 C365.1,66.7 365.7,67.2 366.3,67.8 C367.0,68.4 367.6,68.9 368.2,69.5 C368.8,70.1 369.4,70.7 369.9,71.3 C370.5,71.9 371.1,72.5 371.7,73.1 C372.3,73.7 372.8,74.3 373.4,74.9 C374.0,75.5 374.6,76.1 375.1,76.8 C375.7,77.4 376.2,78.0 376.8,78.6 C377.4,79.2 377.9,79.9 378.5,80.5 C379.0,81.1 379.6,81.8 380.1,82.4 C380.7,83.0 381.2,83.7 381.8,84.3 C382.3,84.9 382.8,85.6 383.4,86.2 C383.9,86.9 384.4,87.5 384.9,88.2 C385.4,88.9 386.0,89.5 386.5,90.2 C387.0,90.9 387.5,91.5 388.0,92.2 C388.4,92.9 388.9,93.6 389.4,94.2 C389.9,94.9 390.4,95.6 390.8,96.3 C391.3,97.0 391.7,97.7 392.2,98.4 C392.6,99.2 393.0,99.9 393.4,100.6 C393.9,101.3 394.3,102.1 394.7,102.8 C395.1,103.5 395.5,104.3 395.8,105.0 C396.2,105.8 396.6,106.5 396.9,107.3 C397.3,108.1 397.6,108.8 397.9,109.6 C398.2,110.4 398.5,111.1 398.8,111.9 C399.1,112.7 399.4,113.5 399.6,114.3 C399.9,115.1 400.1,115.9 400.4,116.7 C400.6,117.5 400.8,118.3 401.0,119.1 C401.2,120.0 401.4,121.2 401.5,121.6" stroke="#cdcdcd" stroke-width="2.5"/>
<path d="M73.6,380.0 L77.2,160.0 L79.0,158.0 L81.0,163.0 L83.6,166.5 C83.8,166.1 84.4,165.0 84.8,164.3 C85.2,163.5 85.5,162.8 85.9,162.1 C86.3,161.3 86.7,160.6 87.1,159.8 C87.5,159.1 87.9,158.3 88.2,157.6 C88.6,156.8 89.0,156.1 89.4,155.3 C89.7,154.6 90.1,153.8 90.5,153.1 C90.8,152.3 91.2,151.6 91.6,150.8 C91.9,150.1 92.3,149.3 92.7,148.6 C93.0,147.8 93.4,147.1 93.7,146.3 C94.1,145.5 94.4,144.8 94.8,144.0 C95.1,143.3 95.4,142.5 95.8,141.7 C96.1,141.0 96.4,140.2 96.8,139.4 C97.1,138.7 97.4,137.9 97.8,137.1 C98.1,136.3 98.4,135.6 98.7,134.8 C99.0,134.0 99.3,133.2 99.6,132.5 C100.0,131.7 100.3,130.9 100.6,130.1 C100.9,129.3 101.2,128.6 101.5,127.8 C101.8,127.0 102.1,126.2 102.4,125.5 C102.7,124.7 103.0,123.9 103.3,123.1 C103.6,122.3 104.0,121.6 104.3,120.8 C104.6,120.0 104.9,119.2 105.2,118.5 C105.5,117.7 105.9,116.9 106.2,116.1 C106.5,115.4 106.8,114.6 107.2,113.8 C107.5,113.1 107.8,112.3 108.2,111.5 C108.5,110.8 108.9,110.0 109.2,109.3 C109.6,108.5 109.9,107.7 110.3,107.0 C110.6,106.2 111.0,105.5 111.4,104.7 C111.8,104.0 112.2,103.2 112.6,102.5 C112.9,101.8 113.3,101.0 113.8,100.3 C114.2,99.6 114.6,98.8 115.0,98.1 C115.4,97.4 115.9,96.7 116.3,96.0 C116.8,95.3 117.2,94.6 117.7,93.9 C118.2,93.2 118.6,92.5 119.1,91.8 C119.6,91.1 120.1,90.5 120.6,89.8 C121.1,89.1 121.6,88.5 122.2,87.8 C122.7,87.2 123.2,86.5 123.8,85.9 C124.3,85.3 124.9,84.6 125.4,84.0 C126.0,83.4 126.5,82.8 127.1,82.2 C127.7,81.5 128.3,80.9 128.8,80.3 C129.4,79.7 130.0,79.1 130.6,78.6 C131.2,78.0 131.8,77.4 132.4,76.8 C133.0,76.2 133.6,75.6 134.2,75.1 C134.8,74.5 135.5,73.9 136.1,73.4 C136.7,72.8 137.3,72.3 138.0,71.7 C138.6,71.2 139.3,70.7 139.9,70.1 C140.6,69.6 141.2,69.1 141.9,68.6 C142.6,68.1 143.2,67.6 143.9,67.1 C144.6,66.6 145.3,66.1 146.0,65.7 C146.7,65.2 147.4,64.7 148.1,64.3 C148.8,63.8 149.5,63.4 150.2,63.0 C150.9,62.5 151.6,62.1 152.4,61.7 C153.1,61.3 153.8,60.8 154.5,60.4 C155.3,60.0 156.0,59.6 156.8,59.3 C157.5,58.9 158.3,58.5 159.0,58.1 C159.8,57.8 160.5,57.4 161.3,57.0 C162.0,56.7 162.8,56.3 163.6,56.0 C164.3,55.7 165.1,55.3 165.9,55.0 C166.6,54.7 167.4,54.4 168.2,54.1 C169.0,53.8 169.7,53.5 170.5,53.2 C171.3,52.9 172.1,52.6 172.9,52.3 C173.7,52.0 174.5,51.8 175.3,51.5 C176.1,51.2 176.9,51.0 177.7,50.7 C178.5,50.5 179.3,50.3 180.1,50.0 C180.9,49.8 181.7,49.5 182.5,49.3 C183.3,49.1 184.1,48.9 184.9,48.7 C185.7,48.5 186.5,48.3 187.3,48.1 C188.1,47.9 189.0,47.7 189.8,47.5 C190.6,47.3 191.4,47.1 192.2,46.9 C193.0,46.8 193.9,46.6 194.7,46.4 C195.5,46.3 196.3,46.1 197.1,45.9 C198.0,45.8 198.8,45.6 199.6,45.5 C200.4,45.3 201.3,45.2 202.1,45.1 C202.9,44.9 203.7,44.8 204.6,44.7 C205.4,44.6 206.2,44.4 207.1,44.3 C207.9,44.2 208.7,44.1 209.5,44.0 C210.4,43.9 211.2,43.8 212.0,43.7 C212.9,43.6 213.7,43.5 214.5,43.4 C215.4,43.3 216.2,43.2 217.0,43.1 C217.9,43.1 218.7,43.0 219.5,42.9 C220.4,42.8 221.2,42.8 222.0,42.7 C222.9,42.6 223.7,42.6 224.5,42.5 C225.4,42.5 226.2,42.4 227.0,42.4 C227.9,42.3 228.7,42.3 229.5,42.2 C230.4,42.2 231.2,42.1 232.0,42.1 C232.9,42.0 233.7,42.0 234.6,42.0 C235.4,41.9 236.2,41.9 237.1,41.9 C237.9,41.9 238.7,41.8 239.6,41.8 C240.4,41.8 241.2,41.8 242.1,41.7 C242.9,41.7 243.8,41.7 244.6,41.7 C245.4,41.7 246.3,41.7 247.1,41.7 C247.9,41.7 248.8,41.7 249.6,41.6 C250.5,41.6 251.3,41.6 252.1,41.6 C253.0,41.6 253.8,41.6 254.6,41.6 C255.5,41.6 256.3,41.6 257.1,41.7 C258.0,41.7 258.8,41.7 259.7,41.7 C260.5,41.7 261.3,41.7 262.2,41.7 C263.0,41.7 263.8,41.7 264.7,41.7 C265.5,41.7 266.3,41.8 267.2,41.8 C268.0,41.8 268.9,41.8 269.7,41.8 C270.5,41.8 271.4,41.9 272.2,41.9 C273.0,41.9 273.9,41.9 274.7,41.9 C275.6,41.9 276.4,42.0 277.2,42.0 C278.1,42.0 278.9,42.0 279.7,42.0 C280.6,42.0 281.4,42.1 282.2,42.1 C283.1,42.1 283.9,42.1 284.8,42.1 C285.6,42.2 286.4,42.2 287.3,42.2 C288.1,42.2 288.9,42.2 289.8,42.3 C290.6,42.3 291.4,42.3 292.3,42.3 C293.1,42.4 294.0,42.4 294.8,42.4 C295.6,42.4 296.5,42.5 297.3,42.5 C298.1,42.5 299.0,42.6 299.8,42.6 C300.6,42.6 301.5,42.7 302.3,42.7 C303.2,42.7 304.0,42.8 304.8,42.8 C305.7,42.9 306.5,42.9 307.3,43.0 C308.2,43.0 309.0,43.1 309.8,43.1 C310.7,43.2 311.5,43.2 312.3,43.3 C313.2,43.4 314.0,43.4 314.8,43.5 C315.7,43.6 316.5,43.6 317.3,43.7 C318.2,43.8 319.0,43.9 319.8,43.9 C320.7,44.0 321.5,44.1 322.3,44.2 C323.2,44.3 324.0,44.4 324.8,44.5 C325.7,44.6 326.5,44.7 327.3,44.8 C328.2,44.9 329.0,45.0 329.8,45.2 C330.6,45.3 331.5,45.4 332.3,45.6 C333.1,45.7 333.9,45.8 334.8,46.0 C335.6,46.1 336.4,46.3 337.2,46.4 C338.1,46.6 338.9,46.7 339.7,46.9 C340.5,47.1 341.3,47.2 342.2,47.4 C343.0,47.6 343.8,47.8 344.6,48.0 C345.4,48.2 346.2,48.4 347.0,48.6 C347.8,48.8 348.7,49.0 349.5,49.2 C350.3,49.5 351.1,49.7 351.9,49.9 C352.7,50.2 353.5,50.4 354.3,50.6 C355.1,50.9 355.9,51.2 356.7,51.4 C357.5,51.7 358.3,52.0 359.0,52.2 C359.8,52.5 360.6,52.8 361.4,53.1 C362.2,53.4 363.0,53.7 363.7,54.0 C364.5,54.3 365.3,54.7 366.1,55.0 C366.8,55.3 367.6,55.6 368.4,56.0 C369.1,56.3 369.9,56.7 370.6,57.1 C371.4,57.4 372.1,57.8 372.9,58.2 C373.6,58.6 374.4,58.9 375.1,59.3 C375.8,59.7 376.6,60.1 377.3,60.6 C378.0,61.0 378.7,61.4 379.4,61.8 C380.2,62.3 380.9,62.7 381.6,63.2 C382.3,63.6 383.0,64.1 383.7,64.6 C384.4,65.0 385.0,65.5 385.7,66.0 C386.4,66.5 387.0,67.0 387.7,67.5 C388.4,68.1 389.0,68.6 389.7,69.1 C390.3,69.6 391.0,70.2 391.6,70.7 C392.2,71.3 392.9,71.8 393.5,72.4 C394.1,72.9 394.7,73.5 395.3,74.1 C395.9,74.6 396.5,75.2 397.1,75.8 C397.7,76.4 398.3,77.0 398.9,77.6 C399.5,78.2 400.1,78.8 400.7,79.4 C401.3,80.0 401.9,80.6 402.4,81.2 C403.0,81.8 403.6,82.4 404.1,83.0 C404.7,83.6 405.3,84.2 405.8,84.9 C406.4,85.5 407.0,86.1 407.5,86.7 C408.1,87.4 408.6,88.0 409.2,88.6 C409.7,89.3 410.2,89.9 410.8,90.5 C411.3,91.2 411.8,91.8 412.4,92.5 C412.9,93.1 413.4,93.8 413.9,94.4 C414.4,95.1 415.0,95.8 415.5,96.4 C416.0,97.1 416.5,97.8 416.9,98.5 C417.4,99.1 417.9,99.8 418.4,100.5 C418.9,101.2 419.3,101.9 419.8,102.6 C420.3,103.3 420.7,104.0 421.2,104.7 C421.6,105.4 422.0,106.1 422.5,106.8 C422.9,107.6 423.3,108.3 423.7,109.0 C424.1,109.7 424.6,110.5 424.9,111.2 C425.3,112.0 425.7,112.7 426.1,113.4 C426.5,114.2 426.8,114.9 427.2,115.7 C427.5,116.5 428.0,117.6 428.2,118.0" stroke="#5f5f5f" stroke-width="3.1"/>
<path d="M73.6,380.0 L77.2,160.0 L79.5,159.0 L82.0,164.0 L84.6,166.5 C84.8,166.1 85.4,165.0 85.8,164.3 C86.2,163.6 86.6,162.8 87.0,162.1 C87.4,161.3 87.7,160.6 88.1,159.8 C88.5,159.1 88.9,158.3 89.3,157.6 C89.6,156.8 90.0,156.1 90.4,155.3 C90.8,154.6 91.1,153.8 91.5,153.1 C91.9,152.3 92.2,151.6 92.6,150.8 C92.9,150.1 93.3,149.3 93.6,148.5 C94.0,147.8 94.3,147.0 94.7,146.3 C95.0,145.5 95.4,144.7 95.7,144.0 C96.1,143.2 96.4,142.4 96.8,141.7 C97.1,140.9 97.4,140.1 97.8,139.4 C98.1,138.6 98.4,137.8 98.8,137.1 C99.1,136.3 99.4,135.5 99.8,134.8 C100.1,134.0 100.4,133.2 100.7,132.4 C101.1,131.7 101.4,130.9 101.7,130.1 C102.1,129.4 102.4,128.6 102.7,127.8 C103.0,127.1 103.4,126.3 103.7,125.5 C104.0,124.7 104.4,124.0 104.7,123.2 C105.0,122.4 105.4,121.7 105.7,120.9 C106.1,120.1 106.4,119.4 106.7,118.6 C107.1,117.8 107.4,117.1 107.8,116.3 C108.1,115.6 108.5,114.8 108.9,114.0 C109.2,113.3 109.6,112.5 109.9,111.8 C110.3,111.0 110.7,110.3 111.1,109.5 C111.4,108.8 111.8,108.0 112.2,107.3 C112.6,106.6 113.0,105.8 113.4,105.1 C113.8,104.3 114.2,103.6 114.6,102.9 C115.0,102.2 115.4,101.4 115.9,100.7 C116.3,100.0 116.7,99.3 117.2,98.6 C117.6,97.8 118.1,97.1 118.5,96.4 C119.0,95.7 119.4,95.0 119.9,94.3 C120.4,93.7 120.9,93.0 121.4,92.3 C121.9,91.6 122.4,90.9 122.9,90.3 C123.4,89.6 123.9,88.9 124.4,88.3 C124.9,87.6 125.4,87.0 126.0,86.3 C126.5,85.7 127.1,85.1 127.6,84.4 C128.2,83.8 128.7,83.2 129.3,82.6 C129.9,81.9 130.5,81.3 131.0,80.7 C131.6,80.1 132.2,79.5 132.8,79.0 C133.4,78.4 134.0,77.8 134.6,77.2 C135.3,76.7 135.9,76.1 136.5,75.5 C137.1,75.0 137.8,74.4 138.4,73.9 C139.1,73.4 139.7,72.9 140.4,72.3 C141.0,71.8 141.7,71.3 142.4,70.8 C143.0,70.3 143.7,69.8 144.4,69.3 C145.1,68.9 145.8,68.4 146.5,67.9 C147.2,67.5 147.9,67.0 148.6,66.6 C149.3,66.1 150.0,65.7 150.7,65.2 C151.4,64.8 152.2,64.4 152.9,64.0 C153.6,63.6 154.4,63.1 155.1,62.7 C155.8,62.3 156.6,62.0 157.3,61.6 C158.1,61.2 158.8,60.8 159.6,60.4 C160.3,60.1 161.1,59.7 161.8,59.3 C162.6,59.0 163.3,58.6 164.1,58.3 C164.9,57.9 165.6,57.6 166.4,57.3 C167.2,57.0 168.0,56.6 168.7,56.3 C169.5,56.0 170.3,55.7 171.1,55.4 C171.9,55.1 172.6,54.8 173.4,54.5 C174.2,54.3 175.0,54.0 175.8,53.7 C176.6,53.5 177.4,53.2 178.2,52.9 C179.0,52.7 179.8,52.5 180.6,52.2 C181.4,52.0 182.2,51.8 183.0,51.6 C183.8,51.3 184.7,51.1 185.5,50.9 C186.3,50.8 187.1,50.6 187.9,50.4 C188.7,50.2 189.6,50.1 190.4,49.9 C191.2,49.7 192.0,49.6 192.9,49.5 C193.7,49.3 194.5,49.2 195.3,49.1 C196.2,49.0 197.0,48.9 197.8,48.8 C198.7,48.7 199.5,48.6 200.3,48.5 C201.2,48.4 202.0,48.4 202.8,48.3 C203.7,48.3 204.5,48.2 205.4,48.2 C206.2,48.2 207.0,48.1 207.9,48.1 C208.7,48.1 209.5,48.1 210.4,48.1 C211.2,48.1 212.1,48.1 212.9,48.1 C213.7,48.1 214.6,48.1 215.4,48.1 C216.2,48.1 217.1,48.1 217.9,48.2 C218.8,48.2 219.6,48.2 220.4,48.2 C221.3,48.3 222.1,48.3 222.9,48.3 C223.8,48.4 224.6,48.4 225.5,48.4 C226.3,48.4 227.1,48.5 228.0,48.5 C228.8,48.5 229.6,48.6 230.5,48.6 C231.3,48.6 232.2,48.6 233.0,48.7 C233.8,48.7 234.7,48.7 235.5,48.7 C236.3,48.7 237.2,48.7 238.0,48.7 C238.9,48.7 239.7,48.7 240.5,48.7 C241.4,48.7 242.2,48.7 243.0,48.7 C243.9,48.7 244.7,48.7 245.6,48.7 C246.4,48.7 247.2,48.7 248.1,48.7 C248.9,48.7 249.7,48.7 250.6,48.7 C251.4,48.7 252.3,48.6 253.1,48.6 C253.9,48.6 254.8,48.6 255.6,48.6 C256.5,48.6 257.3,48.5 258.1,48.5 C259.0,48.5 259.8,48.5 260.6,48.5 C261.5,48.5 262.3,48.4 263.2,48.4 C264.0,48.4 264.8,48.4 265.7,48.4 C266.5,48.4 267.3,48.4 268.2,48.3 C269.0,48.3 269.9,48.3 270.7,48.3 C271.5,48.3 272.4,48.3 273.2,48.3 C274.0,48.3 274.9,48.3 275.7,48.3 C276.6,48.3 277.4,48.3 278.2,48.3 C279.1,48.3 279.9,48.3 280.7,48.3 C281.6,48.3 282.4,48.3 283.3,48.3 C284.1,48.3 284.9,48.3 285.8,48.3 C286.6,48.4 287.4,48.4 288.3,48.4 C289.1,48.4 290.0,48.4 290.8,48.4 C291.6,48.5 292.5,48.5 293.3,48.5 C294.1,48.6 295.0,48.6 295.8,48.6 C296.7,48.6 297.5,48.7 298.3,48.7 C299.2,48.8 300.0,48.8 300.8,48.8 C301.7,48.9 302.5,48.9 303.4,49.0 C304.2,49.0 305.0,49.1 305.9,49.2 C306.7,49.2 307.5,49.3 308.4,49.3 C309.2,49.4 310.0,49.5 310.9,49.5 C311.7,49.6 312.5,49.7 313.4,49.8 C314.2,49.8 315.0,49.9 315.9,50.0 C316.7,50.1 317.5,50.2 318.4,50.3 C319.2,50.4 320.0,50.5 320.9,50.6 C321.7,50.7 322.5,50.8 323.4,50.9 C324.2,51.0 325.0,51.1 325.9,51.2 C326.7,51.3 327.5,51.4 328.3,51.6 C329.2,51.7 330.0,51.8 330.8,52.0 C331.7,52.1 332.5,52.2 333.3,52.4 C334.1,52.5 335.0,52.7 335.8,52.8 C336.6,53.0 337.4,53.1 338.3,53.3 C339.1,53.4 339.9,53.6 340.7,53.8 C341.5,54.0 342.4,54.1 343.2,54.3 C344.0,54.5 344.8,54.7 345.6,54.9 C346.4,55.1 347.2,55.3 348.1,55.5 C348.9,55.7 349.7,55.9 350.5,56.2 C351.3,56.4 352.1,56.6 352.9,56.9 C353.7,57.1 354.5,57.4 355.3,57.7 C356.1,58.0 356.8,58.3 357.6,58.6 C358.4,58.9 359.2,59.2 359.9,59.5 C360.7,59.9 361.5,60.2 362.2,60.6 C363.0,61.0 363.7,61.4 364.5,61.8 C365.2,62.2 365.9,62.6 366.6,63.0 C367.4,63.4 368.1,63.9 368.8,64.3 C369.5,64.8 370.2,65.2 370.9,65.7 C371.6,66.2 372.2,66.7 372.9,67.2 C373.6,67.7 374.3,68.2 374.9,68.7 C375.6,69.2 376.2,69.7 376.9,70.3 C377.5,70.8 378.1,71.4 378.8,71.9 C379.4,72.5 380.0,73.0 380.6,73.6 C381.2,74.2 381.8,74.8 382.4,75.4 C383.0,75.9 383.6,76.5 384.2,77.1 C384.8,77.7 385.4,78.3 385.9,79.0 C386.5,79.6 387.1,80.2 387.6,80.8 C388.2,81.4 388.8,82.1 389.3,82.7 C389.9,83.3 390.4,84.0 390.9,84.6 C391.5,85.3 392.0,85.9 392.5,86.5 C393.1,87.2 393.6,87.9 394.1,88.5 C394.6,89.2 395.1,89.8 395.6,90.5 C396.2,91.2 396.7,91.8 397.2,92.5 C397.7,93.2 398.2,93.8 398.7,94.5 C399.2,95.2 399.6,95.9 400.1,96.6 C400.6,97.2 401.1,97.9 401.6,98.6 C402.1,99.3 402.6,100.0 403.0,100.7 C403.5,101.4 404.0,102.0 404.5,102.7 C404.9,103.4 405.4,104.1 405.9,104.8 C406.3,105.5 406.8,106.2 407.3,106.9 C407.7,107.6 408.2,108.3 408.7,109.0 C409.1,109.7 409.6,110.4 410.0,111.1 C410.5,111.8 411.0,112.5 411.4,113.2 C411.9,113.9 412.3,114.6 412.8,115.3 C413.2,116.0 413.7,116.7 414.1,117.5 C414.5,118.2 415.0,118.9 415.4,119.6 C415.9,120.3 416.3,121.0 416.7,121.7 C417.2,122.4 417.6,123.2 418.0,123.9 C418.5,124.6 418.9,125.3 419.3,126.1 C419.7,126.8 420.1,127.5 420.5,128.2 C420.9,129.0 421.3,129.7 421.7,130.5 C422.1,131.2 422.5,131.9 422.9,132.7 C423.2,133.4 423.6,134.2 424.0,135.0 C424.3,135.7 424.7,136.5 425.0,137.2 C425.4,138.0 425.7,138.8 426.0,139.6 C426.3,140.3 426.7,141.5 426.9,141.9" stroke="#5f5f5f" stroke-width="3.1"/>
<path d="M300.0,45.0 C300.4,45.1 301.6,45.4 302.4,45.7 C303.2,45.9 304.1,46.1 304.9,46.3 C305.7,46.5 306.5,46.7 307.3,46.9 C308.1,47.0 309.0,47.2 309.8,47.4 C310.6,47.6 311.4,47.8 312.3,47.9 C313.1,48.1 313.9,48.3 314.7,48.5 C315.5,48.6 316.4,48.8 317.2,49.0 C318.0,49.1 318.8,49.3 319.7,49.5 C320.5,49.6 321.3,49.8 322.1,50.0 C322.9,50.1 323.8,50.3 324.6,50.5 C325.4,50.7 326.2,50.8 327.1,51.0 C327.9,51.2 328.7,51.4 329.5,51.6 C330.3,51.8 331.2,52.0 332.0,52.1 C332.8,52.3 333.6,52.6 334.4,52.8 C335.2,53.0 336.0,53.2 336.8,53.4 C337.7,53.6 338.5,53.9 339.3,54.1 C340.1,54.3 340.9,54.6 341.7,54.9 C342.5,55.1 343.3,55.4 344.1,55.7 C344.9,55.9 345.6,56.2 346.4,56.5 C347.2,56.8 348.0,57.1 348.8,57.5 C349.5,57.8 350.3,58.1 351.1,58.5 C351.9,58.8 352.6,59.2 353.4,59.5 C354.1,59.9 354.9,60.3 355.6,60.7 C356.4,61.0 357.1,61.4 357.8,61.8 C358.6,62.3 359.3,62.7 360.0,63.1 C360.7,63.5 361.5,64.0 362.2,64.4 C362.9,64.9 363.6,65.3 364.3,65.8 C365.0,66.3 365.7,66.7 366.4,67.2 C367.1,67.7 367.7,68.2 368.4,68.7 C369.1,69.2 369.7,69.7 370.4,70.2 C371.1,70.7 371.7,71.3 372.4,71.8 C373.0,72.3 373.7,72.9 374.3,73.4 C374.9,74.0 375.5,74.6 376.2,75.1 C376.8,75.7 377.4,76.3 378.0,76.9 C378.6,77.4 379.2,78.0 379.8,78.6 C380.4,79.2 381.0,79.8 381.5,80.4 C382.1,81.1 382.7,81.7 383.2,82.3 C383.8,82.9 384.4,83.6 384.9,84.2 C385.5,84.8 386.0,85.5 386.5,86.1 C387.1,86.8 387.6,87.4 388.1,88.1 C388.7,88.7 389.2,89.4 389.7,90.0 C390.2,90.7 390.7,91.4 391.2,92.0 C391.7,92.7 392.2,93.4 392.7,94.1 C393.2,94.8 393.7,95.4 394.2,96.1 C394.7,96.8 395.1,97.5 395.6,98.2 C396.1,98.9 396.6,99.6 397.0,100.3 C397.5,101.0 398.0,101.7 398.4,102.4 C398.9,103.1 399.3,103.8 399.8,104.5 C400.2,105.2 400.7,105.9 401.1,106.6 C401.6,107.3 402.0,108.1 402.5,108.8 C402.9,109.5 403.3,110.2 403.8,110.9 C404.2,111.6 404.7,112.4 405.1,113.1 C405.5,113.8 405.9,114.5 406.4,115.2 C406.8,116.0 407.2,116.7 407.7,117.4 C408.1,118.1 408.5,118.9 408.9,119.6 C409.4,120.3 409.8,121.0 410.2,121.8 C410.6,122.5 411.0,123.2 411.5,123.9 C411.9,124.7 412.3,125.4 412.7,126.1 C413.2,126.8 413.8,127.9 414.0,128.3" stroke="#5f5f5f" stroke-width="2.2"/>
<path d="M73.6,380.0 L77.4,159.5 L79.0,161.5 L81.5,159.0 L84.6,160.5 L87.0,158.5 L89.8,162.0 L92.0,159.0 L94.5,160.0 L96.7,162.0 C96.8,161.6 96.9,160.3 97.1,159.5 C97.2,158.7 97.3,157.9 97.5,157.0 C97.6,156.2 97.7,155.4 97.9,154.5 C98.0,153.7 98.2,152.9 98.4,152.1 C98.5,151.3 98.7,150.4 98.9,149.6 C99.1,148.8 99.2,148.0 99.4,147.2 C99.6,146.4 99.8,145.5 100.0,144.7 C100.2,143.9 100.5,143.1 100.7,142.3 C100.9,141.5 101.1,140.7 101.4,139.9 C101.6,139.1 101.8,138.3 102.1,137.5 C102.3,136.7 102.6,135.9 102.8,135.1 C103.1,134.3 103.4,133.5 103.6,132.7 C103.9,131.9 104.2,131.1 104.5,130.3 C104.8,129.5 105.0,128.7 105.3,127.9 C105.6,127.2 106.0,126.4 106.3,125.6 C106.6,124.8 106.9,124.1 107.2,123.3 C107.6,122.5 107.9,121.7 108.2,121.0 C108.6,120.2 108.9,119.4 109.3,118.7 C109.6,117.9 110.0,117.2 110.4,116.4 C110.7,115.7 111.1,114.9 111.5,114.2 C111.9,113.4 112.2,112.7 112.6,111.9 C113.0,111.2 113.4,110.5 113.8,109.7 C114.3,109.0 114.7,108.3 115.1,107.5 C115.5,106.8 116.0,106.1 116.4,105.4 C116.8,104.7 117.3,104.0 117.7,103.3 C118.2,102.5 118.6,101.8 119.1,101.1 C119.6,100.5 120.0,99.8 120.5,99.1 C121.0,98.4 121.5,97.7 122.0,97.0 C122.5,96.3 123.0,95.7 123.5,95.0 C124.0,94.3 124.5,93.7 125.0,93.0 C125.5,92.4 126.1,91.7 126.6,91.1 C127.1,90.4 127.7,89.8 128.2,89.1 C128.8,88.5 129.3,87.9 129.9,87.3 C130.5,86.6 131.0,86.0 131.6,85.4 C132.2,84.8 132.8,84.2 133.4,83.6 C133.9,83.0 134.5,82.4 135.1,81.9 C135.8,81.3 136.4,80.7 137.0,80.1 C137.6,79.6 138.2,79.0 138.9,78.5 C139.5,77.9 140.1,77.4 140.8,76.8 C141.4,76.3 142.1,75.8 142.7,75.2 C143.4,74.7 144.0,74.2 144.7,73.7 C145.4,73.2 146.1,72.7 146.7,72.2 C147.4,71.7 148.1,71.2 148.8,70.8 C149.5,70.3 150.2,69.8 150.9,69.4 C151.6,68.9 152.3,68.4 153.0,68.0 C153.7,67.6 154.4,67.1 155.1,66.7 C155.9,66.3 156.6,65.8 157.3,65.4 C158.0,65.0 158.8,64.6 159.5,64.2 C160.3,63.8 161.0,63.4 161.7,63.0 C162.5,62.6 163.2,62.3 164.0,61.9 C164.7,61.5 165.5,61.2 166.3,60.8 C167.0,60.4 167.8,60.1 168.5,59.8 C169.3,59.4 170.1,59.1 170.8,58.7 C171.6,58.4 172.4,58.1 173.2,57.8 C173.9,57.5 174.7,57.2 175.5,56.9 C176.3,56.6 177.1,56.3 177.9,56.0 C178.6,55.7 179.4,55.4 180.2,55.1 C181.0,54.9 181.8,54.6 182.6,54.3 C183.4,54.1 184.2,53.8 185.0,53.6 C185.8,53.3 186.6,53.1 187.4,52.9 C188.2,52.6 189.0,52.4 189.8,52.2 C190.7,52.0 191.5,51.7 192.3,51.5 C193.1,51.3 193.9,51.1 194.7,50.9 C195.5,50.7 196.3,50.5 197.2,50.4 C198.0,50.2 198.8,50.0 199.6,49.8 C200.4,49.7 201.3,49.5 202.1,49.3 C202.9,49.2 203.7,49.0 204.6,48.9 C205.4,48.7 206.2,48.6 207.0,48.4 C207.9,48.3 208.7,48.2 209.5,48.0 C210.4,47.9 211.2,47.8 212.0,47.7 C212.8,47.6 213.7,47.4 214.5,47.3 C215.3,47.2 216.2,47.1 217.0,47.0 C217.8,46.9 218.7,46.8 219.5,46.7 C220.3,46.6 221.2,46.5 222.0,46.4 C222.8,46.3 223.7,46.3 224.5,46.2 C225.3,46.1 226.2,46.0 227.0,45.9 C227.8,45.8 228.7,45.8 229.5,45.7 C230.3,45.6 231.2,45.6 232.0,45.5 C232.8,45.4 233.7,45.4 234.5,45.3 C235.4,45.2 236.2,45.2 237.0,45.1 C237.9,45.1 238.7,45.0 239.5,44.9 C240.4,44.9 241.2,44.8 242.0,44.8 C242.9,44.7 243.7,44.7 244.6,44.6 C245.4,44.6 246.2,44.5 247.1,44.5 C247.9,44.5 248.7,44.4 249.6,44.4 C250.4,44.3 251.3,44.3 252.1,44.3 C252.9,44.2 253.8,44.2 254.6,44.2 C255.4,44.2 256.3,44.1 257.1,44.1 C258.0,44.1 258.8,44.1 259.6,44.1 C260.5,44.0 261.3,44.0 262.2,44.0 C263.0,44.0 263.8,44.0 264.7,44.0 C265.5,44.0 266.3,44.0 267.2,44.0 C268.0,44.0 268.9,44.0 269.7,44.0 C270.5,44.0 271.4,44.0 272.2,44.0 C273.1,44.0 273.9,44.0 274.7,44.1 C275.6,44.1 276.4,44.1 277.2,44.1 C278.1,44.1 278.9,44.2 279.8,44.2 C280.6,44.2 281.4,44.3 282.3,44.3 C283.1,44.3 283.9,44.4 284.8,44.4 C285.6,44.5 286.5,44.5 287.3,44.6 C288.1,44.6 289.0,44.7 289.8,44.7 C290.6,44.8 291.5,44.8 292.3,44.9 C293.1,45.0 294.0,45.0 294.8,45.1 C295.7,45.2 296.5,45.3 297.3,45.3 C298.2,45.4 299.0,45.5 299.8,45.6 C300.7,45.7 301.5,45.8 302.3,45.9 C303.2,46.0 304.0,46.1 304.8,46.2 C305.7,46.3 306.5,46.4 307.3,46.5 C308.1,46.6 309.0,46.7 309.8,46.8 C310.6,46.9 311.5,47.1 312.3,47.2 C313.1,47.3 314.0,47.4 314.8,47.6 C315.6,47.7 316.4,47.9 317.3,48.0 C318.1,48.1 318.9,48.3 319.7,48.4 C320.6,48.6 321.4,48.8 322.2,48.9 C323.0,49.1 323.8,49.2 324.7,49.4 C325.5,49.6 326.3,49.8 327.1,49.9 C327.9,50.1 328.8,50.3 329.6,50.5 C330.4,50.7 331.2,50.9 332.0,51.1 C332.8,51.3 333.7,51.5 334.5,51.7 C335.3,51.9 336.1,52.2 336.9,52.4 C337.7,52.6 338.5,52.9 339.3,53.1 C340.1,53.4 340.9,53.6 341.7,53.9 C342.5,54.1 343.3,54.4 344.1,54.7 C344.9,55.0 345.6,55.3 346.4,55.6 C347.2,55.9 348.0,56.2 348.8,56.5 C349.5,56.8 350.3,57.2 351.1,57.5 C351.8,57.9 352.6,58.2 353.3,58.6 C354.1,59.0 354.8,59.3 355.6,59.7 C356.3,60.1 357.1,60.5 357.8,60.9 C358.5,61.3 359.3,61.8 360.0,62.2 C360.7,62.6 361.4,63.1 362.1,63.5 C362.8,63.9 363.5,64.4 364.2,64.9 C364.9,65.3 365.6,65.8 366.3,66.3 C367.0,66.8 367.7,67.3 368.3,67.8 C369.0,68.3 369.7,68.8 370.3,69.3 C371.0,69.8 371.7,70.3 372.3,70.9 C372.9,71.4 373.6,71.9 374.2,72.5 C374.9,73.0 375.5,73.6 376.1,74.1 C376.7,74.7 377.4,75.3 378.0,75.8 C378.6,76.4 379.2,77.0 379.8,77.6 C380.4,78.2 381.0,78.8 381.5,79.4 C382.1,80.0 382.7,80.6 383.3,81.2 C383.8,81.8 384.4,82.4 385.0,83.1 C385.5,83.7 386.1,84.3 386.6,85.0 C387.1,85.6 387.7,86.3 388.2,86.9 C388.7,87.6 389.3,88.2 389.8,88.9 C390.3,89.5 390.8,90.2 391.3,90.9 C391.8,91.6 392.3,92.2 392.8,92.9 C393.3,93.6 393.7,94.3 394.2,95.0 C394.7,95.7 395.1,96.4 395.6,97.1 C396.1,97.8 396.5,98.5 396.9,99.2 C397.4,99.9 397.8,100.6 398.2,101.4 C398.6,102.1 399.0,102.8 399.4,103.6 C399.8,104.3 400.2,105.1 400.5,105.8 C400.9,106.6 401.2,107.4 401.5,108.1 C401.9,108.9 402.2,109.7 402.5,110.5 C402.7,111.3 403.0,112.1 403.2,112.9 C403.5,113.7 403.8,114.9 403.9,115.3" stroke="#0000ff" stroke-width="3.5"/>
<path d="M73.6,380.0 L77.4,159.0 L79.8,169.5 L85.9,151.0 L91.5,161.8 L94.9,151.1 L97.8,158.0 L100.4,149.5 L102.8,157.8 C102.9,157.4 103.1,156.2 103.3,155.3 C103.4,154.5 103.6,153.7 103.8,152.9 C103.9,152.1 104.1,151.2 104.3,150.4 C104.5,149.6 104.7,148.8 104.8,148.0 C105.0,147.2 105.2,146.3 105.4,145.5 C105.6,144.7 105.8,143.9 106.0,143.1 C106.2,142.3 106.5,141.5 106.7,140.7 C106.9,139.9 107.1,139.1 107.4,138.3 C107.6,137.5 107.8,136.7 108.1,135.9 C108.3,135.1 108.6,134.3 108.9,133.5 C109.1,132.7 109.4,131.9 109.7,131.1 C110.0,130.3 110.2,129.5 110.5,128.8 C110.8,128.0 111.1,127.2 111.5,126.4 C111.8,125.6 112.1,124.9 112.4,124.1 C112.7,123.3 113.1,122.6 113.4,121.8 C113.8,121.0 114.1,120.3 114.5,119.5 C114.8,118.8 115.2,118.0 115.6,117.3 C115.9,116.5 116.3,115.8 116.7,115.0 C117.1,114.3 117.5,113.5 117.9,112.8 C118.3,112.1 118.7,111.3 119.1,110.6 C119.5,109.9 119.9,109.2 120.3,108.4 C120.8,107.7 121.2,107.0 121.6,106.3 C122.1,105.6 122.5,104.9 123.0,104.2 C123.4,103.5 123.9,102.8 124.3,102.1 C124.8,101.4 125.3,100.7 125.8,100.0 C126.2,99.3 126.7,98.6 127.2,98.0 C127.7,97.3 128.2,96.6 128.7,96.0 C129.2,95.3 129.8,94.7 130.3,94.0 C130.8,93.4 131.4,92.7 131.9,92.1 C132.4,91.4 133.0,90.8 133.6,90.2 C134.1,89.6 134.7,89.0 135.3,88.4 C135.8,87.8 136.4,87.2 137.0,86.6 C137.6,86.0 138.2,85.4 138.8,84.8 C139.4,84.2 140.0,83.7 140.7,83.1 C141.3,82.5 141.9,82.0 142.5,81.4 C143.2,80.9 143.8,80.4 144.5,79.8 C145.1,79.3 145.7,78.8 146.4,78.3 C147.1,77.7 147.7,77.2 148.4,76.7 C149.1,76.2 149.7,75.7 150.4,75.2 C151.1,74.7 151.8,74.3 152.5,73.8 C153.1,73.3 153.8,72.8 154.5,72.4 C155.2,71.9 155.9,71.5 156.6,71.0 C157.3,70.6 158.0,70.1 158.8,69.7 C159.5,69.2 160.2,68.8 160.9,68.4 C161.6,68.0 162.4,67.6 163.1,67.2 C163.8,66.7 164.6,66.3 165.3,66.0 C166.0,65.6 166.8,65.2 167.5,64.8 C168.3,64.4 169.0,64.0 169.8,63.7 C170.5,63.3 171.3,63.0 172.0,62.6 C172.8,62.3 173.6,61.9 174.3,61.6 C175.1,61.2 175.9,60.9 176.6,60.6 C177.4,60.2 178.2,59.9 178.9,59.6 C179.7,59.3 180.5,59.0 181.3,58.7 C182.1,58.4 182.8,58.1 183.6,57.8 C184.4,57.5 185.2,57.3 186.0,57.0 C186.8,56.7 187.6,56.5 188.4,56.2 C189.2,55.9 190.0,55.7 190.8,55.4 C191.6,55.2 192.4,55.0 193.2,54.7 C194.0,54.5 194.8,54.3 195.6,54.1 C196.4,53.8 197.2,53.6 198.0,53.4 C198.8,53.2 199.6,53.0 200.4,52.8 C201.3,52.6 202.1,52.4 202.9,52.3 C203.7,52.1 204.5,51.9 205.3,51.7 C206.2,51.6 207.0,51.4 207.8,51.2 C208.6,51.1 209.4,50.9 210.3,50.8 C211.1,50.6 211.9,50.5 212.7,50.4 C213.6,50.2 214.4,50.1 215.2,50.0 C216.0,49.8 216.9,49.7 217.7,49.6 C218.5,49.5 219.4,49.4 220.2,49.3 C221.0,49.2 221.8,49.1 222.7,49.0 C223.5,48.9 224.3,48.8 225.2,48.7 C226.0,48.6 226.8,48.5 227.7,48.4 C228.5,48.3 229.3,48.2 230.2,48.1 C231.0,48.1 231.8,48.0 232.7,47.9 C233.5,47.8 234.3,47.8 235.2,47.7 C236.0,47.6 236.8,47.6 237.7,47.5 C238.5,47.4 239.3,47.4 240.2,47.3 C241.0,47.2 241.8,47.2 242.7,47.1 C243.5,47.1 244.3,47.0 245.2,46.9 C246.0,46.9 246.8,46.8 247.7,46.8 C248.5,46.7 249.3,46.7 250.2,46.6 C251.0,46.6 251.8,46.5 252.7,46.5 C253.5,46.4 254.3,46.4 255.2,46.3 C256.0,46.3 256.8,46.3 257.7,46.2 C258.5,46.2 259.3,46.1 260.2,46.1 C261.0,46.1 261.9,46.0 262.7,46.0 C263.5,46.0 264.4,45.9 265.2,45.9 C266.0,45.9 266.9,45.9 267.7,45.8 C268.5,45.8 269.4,45.8 270.2,45.8 C271.0,45.7 271.9,45.7 272.7,45.7 C273.6,45.7 274.4,45.7 275.2,45.7 C276.1,45.7 276.9,45.7 277.7,45.7 C278.6,45.6 279.4,45.6 280.2,45.6 C281.1,45.6 281.9,45.6 282.8,45.7 C283.6,45.7 284.4,45.7 285.3,45.7 C286.1,45.7 286.9,45.7 287.8,45.7 C288.6,45.7 289.4,45.7 290.3,45.8 C291.1,45.8 291.9,45.8 292.8,45.8 C293.6,45.9 294.5,45.9 295.3,45.9 C296.1,46.0 297.0,46.0 297.8,46.0 C298.6,46.1 299.5,46.1 300.3,46.2 C301.1,46.2 302.0,46.3 302.8,46.3 C303.6,46.4 304.5,46.4 305.3,46.5 C306.1,46.5 307.0,46.6 307.8,46.7 C308.6,46.7 309.5,46.8 310.3,46.9 C311.1,46.9 312.0,47.0 312.8,47.1 C313.6,47.2 314.5,47.2 315.3,47.3 C316.1,47.4 317.0,47.5 317.8,47.6 C318.6,47.7 319.5,47.8 320.3,47.9 C321.1,48.0 322.0,48.1 322.8,48.2 C323.6,48.3 324.4,48.4 325.3,48.5 C326.1,48.7 326.9,48.8 327.7,48.9 C328.6,49.0 329.4,49.1 330.2,49.3 C331.1,49.4 331.9,49.5 332.7,49.7 C333.5,49.8 334.3,50.0 335.2,50.1 C336.0,50.3 336.8,50.4 337.6,50.6 C338.5,50.8 339.3,50.9 340.1,51.1 C340.9,51.3 341.7,51.5 342.5,51.6 C343.4,51.8 344.2,52.0 345.0,52.2 C345.8,52.4 346.6,52.6 347.4,52.8 C348.2,53.0 349.0,53.3 349.8,53.5 C350.6,53.7 351.4,53.9 352.2,54.2 C353.0,54.4 353.8,54.7 354.6,54.9 C355.4,55.2 356.2,55.4 357.0,55.7 C357.8,56.0 358.6,56.3 359.4,56.5 C360.2,56.8 361.0,57.1 361.7,57.4 C362.5,57.7 363.3,58.0 364.1,58.4 C364.8,58.7 365.6,59.0 366.4,59.4 C367.1,59.7 367.9,60.0 368.6,60.4 C369.4,60.8 370.2,61.1 370.9,61.5 C371.6,61.9 372.4,62.3 373.1,62.7 C373.8,63.1 374.6,63.5 375.3,63.9 C376.0,64.4 376.7,64.8 377.4,65.2 C378.1,65.7 378.8,66.1 379.5,66.6 C380.2,67.1 380.9,67.6 381.6,68.0 C382.3,68.5 382.9,69.0 383.6,69.5 C384.3,70.0 384.9,70.6 385.6,71.1 C386.2,71.6 386.9,72.1 387.5,72.7 C388.1,73.2 388.8,73.8 389.4,74.3 C390.0,74.9 390.6,75.5 391.3,76.0 C391.9,76.6 392.5,77.2 393.1,77.8 C393.7,78.3 394.3,78.9 394.8,79.5 C395.4,80.1 396.0,80.7 396.6,81.3 C397.1,81.9 397.7,82.6 398.3,83.2 C398.8,83.8 399.4,84.4 399.9,85.1 C400.5,85.7 401.0,86.3 401.6,87.0 C402.1,87.6 402.6,88.3 403.2,88.9 C403.7,89.6 404.2,90.2 404.7,90.9 C405.2,91.5 405.8,92.2 406.3,92.9 C406.8,93.5 407.3,94.2 407.8,94.9 C408.3,95.5 408.8,96.2 409.2,96.9 C409.7,97.6 410.2,98.3 410.7,98.9 C411.2,99.6 411.6,100.3 412.1,101.0 C412.6,101.7 413.1,102.4 413.5,103.1 C414.0,103.8 414.4,104.5 414.9,105.2 C415.4,105.9 415.8,106.6 416.3,107.3 C416.7,108.0 417.4,109.0 417.6,109.4" stroke="#ff0000" stroke-width="3.5"/>
</g>
<g class="c">
<path class="l" d="M428.7,28.8 H442.9" stroke="#ff0000" stroke-width="2.2"/>
<path class="l" d="M428.7,33.1 H442.9" stroke="#5f5f5f" stroke-width="1.9"/>
<path class="l" d="M428.7,65.4 H442.9" stroke="#0000ff" stroke-width="2.2"/>
<path class="l" d="M428.7,69.9 H442.9" stroke="#cdcdcd" stroke-width="1.9"/>
</g>
<g>
<text x="73.6" y="399" text-anchor="middle" font-size="12.4">0</text>
<text x="165.4" y="399" text-anchor="middle" font-size="12.4">0.1</text>
<text x="257.2" y="399" text-anchor="middle" font-size="12.4">0.2</text>
<text x="348.9" y="399" text-anchor="middle" font-size="12.4">0.3</text>
<text x="440.7" y="399" text-anchor="middle" font-size="12.4">0.4</text>
<text x="532.5" y="399" text-anchor="middle" font-size="12.4">0.5</text>
<text x="68.6" y="384.1" text-anchor="end" font-size="12.4">0</text>
<text x="68.6" y="293.2" text-anchor="end" font-size="12.4">100</text>
<text x="68.6" y="202.4" text-anchor="end" font-size="12.4">200</text>
<text x="68.6" y="111.5" text-anchor="end" font-size="12.4">300</text>
<text x="68.6" y="20.6" text-anchor="end" font-size="12.4">400</text>
<text class="b" x="305.5" y="425.8" text-anchor="middle" font-size="19">Nominal strain ε</text>
<text class="b" transform="translate(25.3,193.1) rotate(-90)" text-anchor="middle" font-size="19">Nominal stress σ [MPa]</text>
<text class="m" x="449.4" y="32.8" font-size="15.3">longitudinal</text>
<text class="m" x="449.4" y="51.0" font-size="15.3">direction</text>
<text class="m" x="449.4" y="69.3" font-size="15.3">transverse</text>
<text class="m" x="449.4" y="87.6" font-size="15.3">direction</text>
</g>
</svg>
</body></html>
